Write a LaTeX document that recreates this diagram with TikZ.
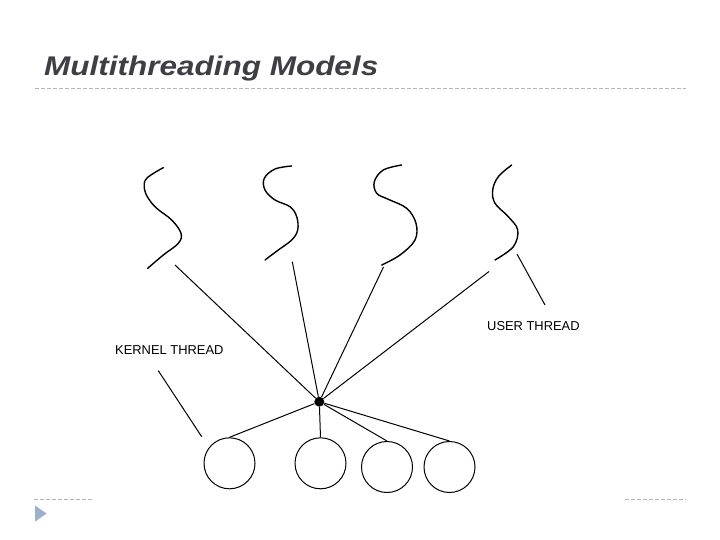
\documentclass[tikz,border=0pt]{standalone}
\usepackage{fontspec}
\setmainfont{Liberation Sans}
\definecolor{titlegray}{RGB}{62,62,70}
\definecolor{rulegray}{RGB}{180,180,180}
\definecolor{bulletblue}{RGB}{155,176,204}
\begin{document}
\begin{tikzpicture}[x=1pt,y=-1pt,
  rulestyle/.style={draw=rulegray, line width=0.9pt, dash pattern=on 4pt off 2pt},
  thread/.style={line width=1.4pt, line cap=round, line join=round},
  link/.style={line width=1pt},
  kthread/.style={circle, draw, line width=1pt, minimum size=51pt, inner sep=0pt},
  hubdot/.style={circle, fill=black, minimum size=10pt, inner sep=0pt},
  lbl/.style={font=\fontsize{12.9}{14}\selectfont, inner sep=0pt, anchor=base west}
]
\useasboundingbox (0,0) rectangle (720,540);
\fill[white] (0,0) rectangle (720,540);

% title and rules
\node[inner sep=0pt, anchor=base west, text=titlegray] (title) at (44,75.7)
  {\scalebox{1.166}[1]{\fontsize{27}{30}\selectfont\bfseries\itshape Multithreading Models}};
\draw[rulestyle] (35,88.5) -- (686,88.5);
\draw[rulestyle] (34,499.5) -- (94,499.5);
\draw[rulestyle] (625,499.5) -- (686,499.5);
\fill[bulletblue] (35,505.5) -- (46.5,513.5) -- (35,521.7) -- cycle;

% user threads (S curves)
\draw[thread] plot[smooth, tension=0.6] coordinates {(163.3,167.7) (146.7,178.3) (144.3,188.3) (148.3,198.3) (156.7,208.3) (171.7,220) (181,233.3) (178.3,243.3) (163.3,255) (147.7,268.3)};
\draw[thread] plot[smooth, tension=0.6] coordinates {(291.7,166) (275,169) (264.3,178.3) (265,190) (275,200) (290,206.7) (296.7,216.7) (297.7,230) (291.7,240) (278.3,250) (265,260)};
\draw[thread] plot[smooth, tension=0.6] coordinates {(401.7,165) (383.3,170) (374.3,181.7) (376.7,193.3) (388.3,199.3) (406.7,208.3) (416,223.3) (415,240) (400,255) (381.7,265)};
\draw[thread] plot[smooth, tension=0.6] coordinates {(511.7,165) (498.3,176.7) (492.7,190) (495,203.3) (508.3,216.7) (517.7,230) (513.3,246.7) (495,260)};

% hub and kernel threads
\node[hubdot] (hub) at (319.3,401.7) {};
\node[kthread] (k1) at (229.5,463.3) {};
\node[kthread] (k2) at (320.5,463.3) {};
\node[kthread] (k3) at (387,467) {};
\node[kthread] (k4) at (449.5,467) {};

\coordinate (u1) at (175,265);
\coordinate (u2) at (292.3,261.7);
\coordinate (u3) at (383.5,267);
\coordinate (u4) at (489,271.5);

\draw[link] (u1) -- (hub);
\draw[link] (u2) -- (hub);
\draw[link] (u3) -- (hub);
\draw[link] (u4) -- (hub);

\draw[link] (hub) -- (k1.north);
\draw[link] (hub) -- (k2.north);
\draw[link] (hub) -- (k3.north);
\draw[link] (hub) -- (k4.north);

% labels and pointers
\node[lbl] (klabel) at (115,354) {KERNEL THREAD};
\node[lbl] (ulabel) at (487,330.7) {USER THREAD};
\coordinate (kp1) at (158.3,370.7);
\coordinate (kp2) at (201.7,436.7);
\draw[link] (kp1) -- (kp2);
\coordinate (up1) at (517,254);
\coordinate (up2) at (545,305);
\draw[link] (up1) -- (up2);
\end{tikzpicture}
\end{document}
